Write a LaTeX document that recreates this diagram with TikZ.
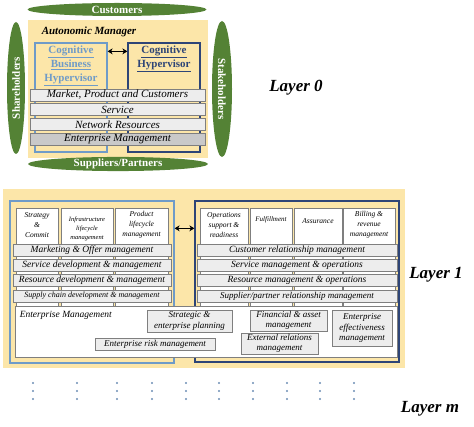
\documentclass[tikz,border=0pt]{standalone}
\usepackage{fontspec}
\setmainfont{Liberation Serif}
\usepackage{tikz}
\usetikzlibrary{positioning}
\usetikzlibrary{arrows.meta}
\usetikzlibrary{shapes.geometric}
\definecolor{leafgreen}{HTML}{548235}
\definecolor{paleyellow}{HTML}{FCE6A9}
\definecolor{skyblue}{HTML}{6F9BC8}
\definecolor{navyblue}{HTML}{2E4577}
\definecolor{bargray}{HTML}{EDEDED}
\definecolor{darkbar}{HTML}{C9C9C9}
\definecolor{edgegray}{HTML}{7F7F7F}
\definecolor{dotblue}{HTML}{6C8EB4}
\tikzset {
  x=1pt, y=-1pt,
  >={Stealth[length=5pt, width=6pt]},
  % green ellipses round the autonomic manager
  party/.style = {ellipse, fill=leafgreen, text=white, inner sep=0pt,
    font=\fontsize{11}{12}\selectfont\bfseries},
  % yellow background of a layer
  panel/.style = {fill=paleyellow, inner sep=0pt},
  % hypervisor frames
  business/.style = {draw=skyblue, line width=1.3pt, inner sep=0pt},
  hyper/.style = {draw=navyblue, line width=1.3pt, inner sep=0pt},
  % horizontal bands
  band/.style = {draw=edgegray, fill=bargray, inner sep=0pt, minimum height=12,
    font=\fontsize{9.5}{10}\selectfont\itshape},
  bigband/.style = {band, font=\fontsize{11}{12}\selectfont\itshape},
  % vertical process columns
  column/.style = {draw=edgegray, line width=0.8pt, fill=white, inner sep=0pt, minimum height=98},
  coltext/.style = {align=center, inner sep=0pt, font=\fontsize{7.5}{10}\selectfont\itshape},
  % boxes inside enterprise management
  entbox/.style = {draw=edgegray, fill=bargray, inner sep=0pt, align=center,
    font=\fontsize{9}{10.5}\selectfont\itshape},
  twoway/.style = {<->, line width=1.2pt},
  layer/.style = {font=\fontsize{17}{18}\selectfont\bfseries\itshape},
}
\begin{document}
\begin{tikzpicture}
  \useasboundingbox (0,0) rectangle (474,427);

  % ---- Layer 0 ----
  \node[panel, minimum width=180, minimum height=138] (panel0) at (118,89) {};
  \node[party, minimum width=179, minimum height=13] (customers) at (117,9.5) {Customers};
  \node[party, minimum width=180, minimum height=13] (suppliers) at (118,164) {Suppliers/Partners};
  \node[party, rotate=90, minimum width=132, minimum height=18] (shareholders) at (16,88) {Shareholders};
  \node[party, rotate=-90, minimum width=136, minimum height=20] (stakeholders) at (222,89) {Stakeholders};
  \node[font=\fontsize{11}{12}\selectfont\bfseries\itshape, inner sep=0pt] (am) at (89,32) {Autonomic Manager};

  \node[business, minimum width=72, minimum height=109] (cbh) at (71,97.5) {};
  \node[hyper, minimum width=72, minimum height=109] (ch) at (164,97.5) {};
  \node[align=center, text=skyblue, font=\fontsize{11}{14}\selectfont\bfseries, inner sep=0pt]
    (cbhtext) at (71,66) {\underline{Cognitive}\\\underline{Business}\\\underline{Hypervisor}};
  \node[align=center, text=navyblue, font=\fontsize{11}{14}\selectfont\bfseries, inner sep=0pt]
    (chtext) at (164,59) {\underline{Cognitive}\\\underline{Hypervisor}};
  \draw[twoway] ([yshift=-9pt]cbh.north east) -- ([yshift=-9pt]ch.north west);

  \node[bigband, minimum width=175] (mpc) at (117.5,95) {Market, Product and Customers};
  \node[bigband, minimum width=175] (svc) at (117.5,109.5) {Service};
  \node[bigband, minimum width=175] (net) at (117.5,124.5) {Network Resources};
  \node[bigband, minimum width=175, fill=darkbar] (em0) at (117.5,139) {Enterprise Management};

  \node[layer] (layer0) at (296,88) {Layer 0};

  % ---- Layer 1 ----
  \node[panel, minimum width=402, minimum height=179] (panel1) at (204,278.5) {};
  \node[business, minimum width=164, minimum height=162] (left) at (92,282) {};
  \node[hyper, minimum width=204, minimum height=161] (right) at (297,281.5) {};
  \draw[twoway] ([yshift=-28pt]left.north east) -- ([yshift=-28pt]right.north west);

  \node[column, minimum width=42] (strat) at (37,257) {};
  \node[column, minimum width=52] (infra) at (87,257) {};
  \node[column, minimum width=53] (prod) at (141.5,257) {};
  \node[column, minimum width=48] (ops) at (224,257) {};
  \node[column, minimum width=42] (ful) at (271,257) {};
  \node[column, minimum width=48] (asr) at (318,257) {};
  \node[column, minimum width=52] (bil) at (369,257) {};

  \node[coltext] (strattxt) at ([yshift=-17pt]strat.north) {Strategy\\\&\\Commit};
  \node[coltext, font=\fontsize{6.5}{9}\selectfont\itshape] (infratxt) at ([yshift=-21pt]infra.north) {Infrastructure\\lifecycle\\management};
  \node[coltext] (prodtxt) at ([yshift=-17pt]prod.north) {Product\\lifecycle\\management};
  \node[coltext] (opstxt) at ([yshift=-17pt]ops.north) {Operations\\support \&\\readiness};
  \node[coltext, font=\fontsize{7}{10}\selectfont\itshape] (fultxt) at ([yshift=-12pt]ful.north) {Fulfillment};
  \node[coltext] (asrtxt) at ([yshift=-13pt]asr.north) {Assurance};
  \node[coltext] (biltxt) at ([yshift=-17pt]bil.north) {Billing \&\\revenue\\management};

  \node[band, minimum width=158] (mkt) at (92,250) {Marketing \& Offer management};
  \node[band, minimum width=158] (sdev) at (92,265) {Service development \& management};
  \node[band, minimum width=158] (rdev) at (92,280) {Resource development \& management};
  \node[band, minimum width=158, font=\fontsize{8}{9}\selectfont\itshape] (sc) at (92,296) {Supply chain development \& management};

  \node[band, minimum width=200] (crm) at (297,250) {Customer relationship management};
  \node[band, minimum width=200] (smo) at (297,265) {Service management \& operations};
  \node[band, minimum width=200] (rmo) at (297,280) {Resource management \& operations};
  \node[band, minimum width=200, font=\fontsize{9}{10}\selectfont\itshape] (spr) at (297,296) {Supplier/partner relationship management};

  \node[draw=edgegray, line width=0.8pt, fill=white, inner sep=0pt, minimum width=382, minimum height=51] (em1) at (206,331.5) {};
  \node[anchor=north west, inner sep=0pt, font=\fontsize{9.5}{10}\selectfont\itshape] (em1txt) at ([xshift=5pt,yshift=-5pt]em1.north west) {Enterprise Management};
  \node[entbox, minimum width=85, minimum height=22] (plan) at (189.5,321) {Strategic \&\\enterprise planning};
  \node[entbox, minimum width=120, minimum height=12] (risk) at (155,344) {Enterprise risk management};
  \node[entbox, minimum width=77, minimum height=21] (fin) at (288.5,320.5) {Financial \& asset\\management};
  \node[entbox, minimum width=77, minimum height=21] (ext) at (279.5,343.5) {External relations\\management};
  \node[entbox, minimum width=60, minimum height=36] (eff) at (362,328) {Enterprise\\effectiveness\\management};

  \node[layer] (layer1) at (436,275) {Layer 1};

  % ---- Layer m ----
  \foreach \x in {33,77,117,152,186,219,253,287,320,354}
    \foreach \y in {383,391,399}
      \fill[dotblue] (\x,\y) circle (1.1pt);
  \node[layer] (layerm) at (430,409) {Layer m};
\end{tikzpicture}
\end{document}
